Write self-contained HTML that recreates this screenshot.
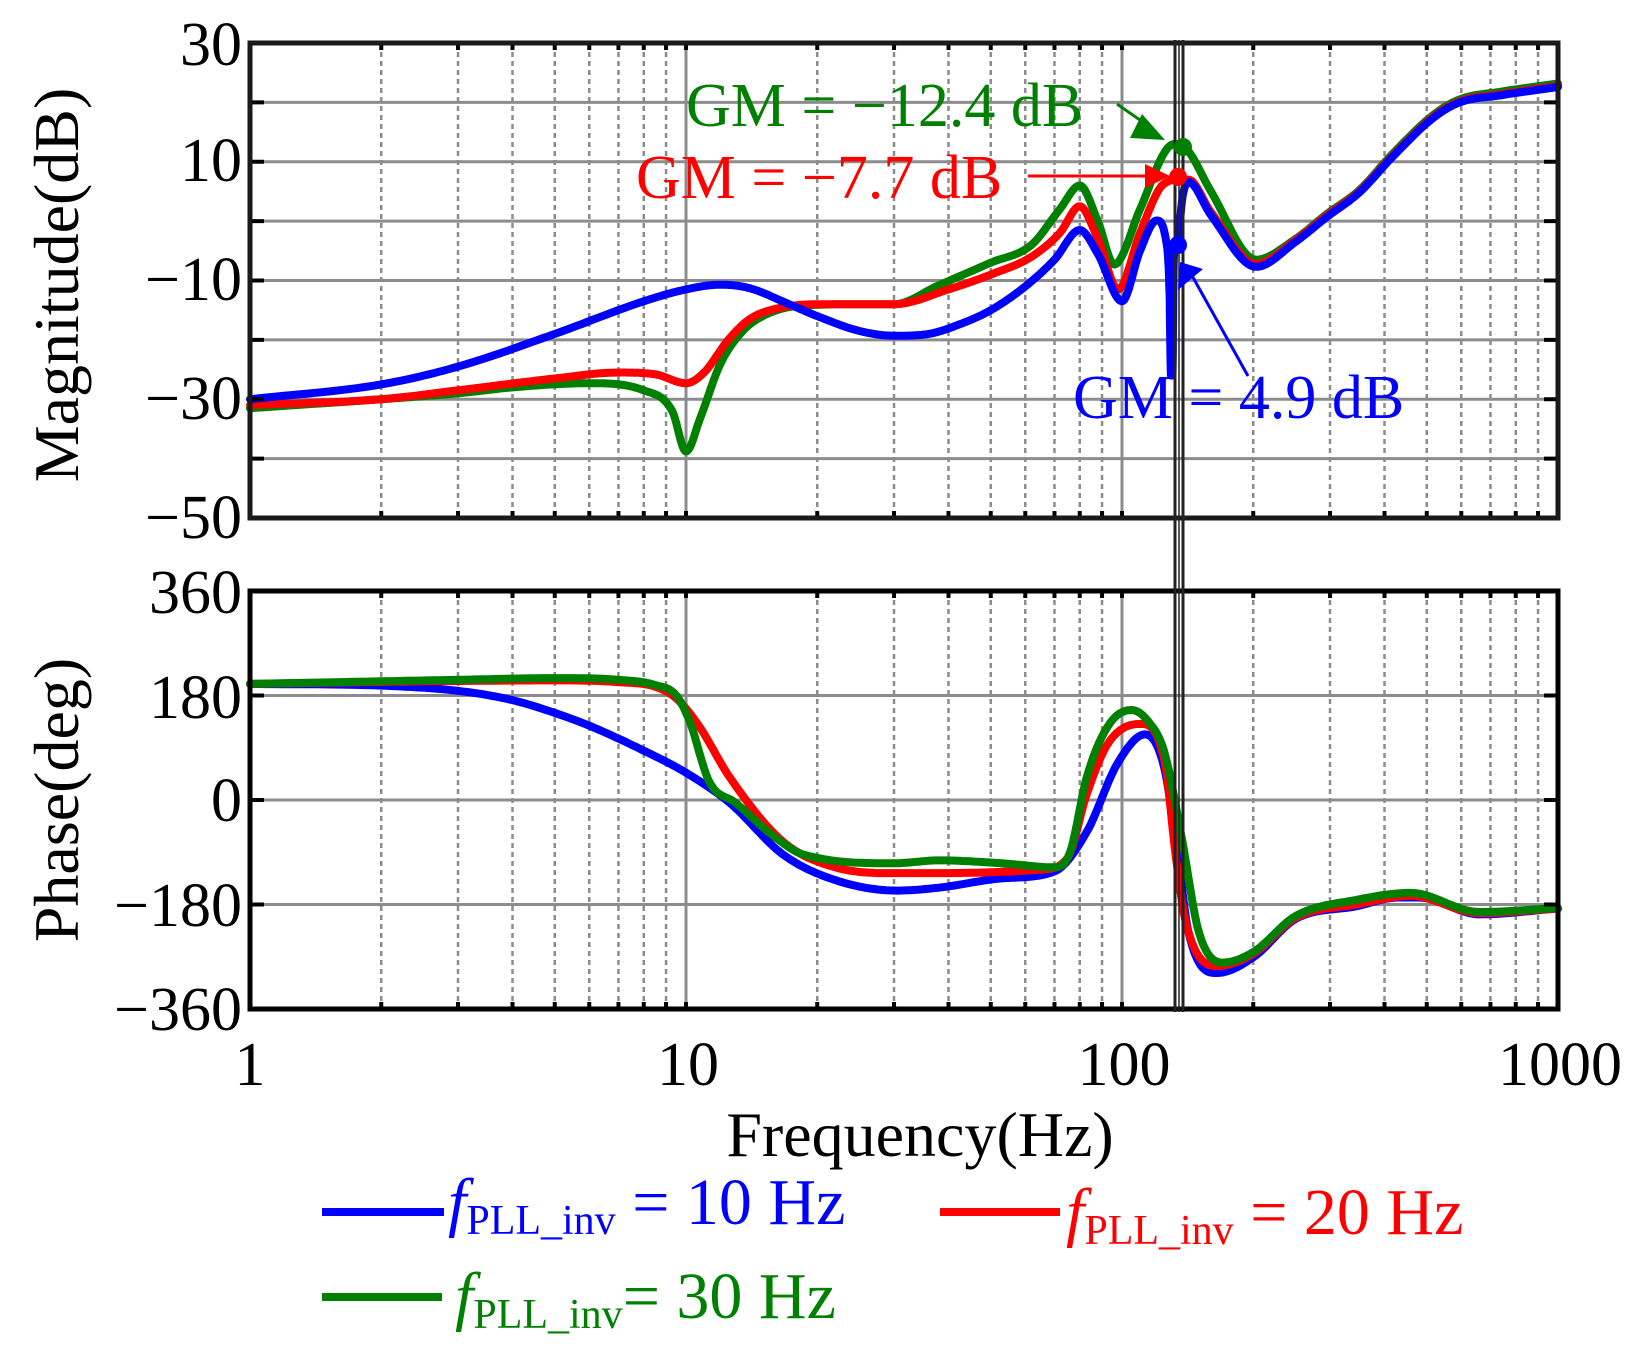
<!DOCTYPE html>
<html><head><meta charset="utf-8">
<style>
html,body{margin:0;padding:0;background:#fff;}
svg{display:block;}
text{font-family:"Liberation Serif","DejaVu Serif",serif;}
</style></head>
<body>
<svg id="s" width="1634" height="1352" viewBox="0 0 1634 1352" xmlns="http://www.w3.org/2000/svg">
<g id="grid"></g>
<g id="curves" fill="none" stroke-linejoin="round" stroke-linecap="round"></g>
<g id="axes"></g>
<g font-size="62" fill="#000" text-anchor="end">
<text x="242" y="65">30</text>
<text x="242" y="181">10</text>
<text x="242" y="300">−10</text>
<text x="242" y="419">−30</text>
<text x="242" y="538">−50</text>
<text x="242" y="613">360</text>
<text x="242" y="718">180</text>
<text x="242" y="821">0</text>
<text x="242" y="926">−180</text>
<text x="242" y="1030">−360</text>
</g>
<g font-size="62" fill="#000" text-anchor="middle">
<text x="250" y="1085">1</text>
<text x="688" y="1085">10</text>
<text x="1124" y="1085">100</text>
<text x="1560" y="1085">1000</text>
<text x="920" y="1156" font-size="64">Frequency(Hz)</text>
<text transform="translate(78,285) rotate(-90)" font-size="64">Magnitude(dB)</text>
<text transform="translate(78,800) rotate(-90)" font-size="64">Phase(deg)</text>
</g>
<g font-size="62">
<text x="686" y="126" fill="#008000">GM = −12.4 dB</text>
<text x="636" y="198" fill="#ff0000">GM = −7.7 dB</text>
<text x="1073" y="418" fill="#0000ff">GM = 4.9 dB</text>
</g>
<g stroke-width="3">
<line x1="1117" y1="104" x2="1150" y2="127" stroke="#008000"/>
<polygon points="1165,140 1142,114 1130,138" fill="#008000"/>
<circle cx="1183" cy="147" r="9" fill="#008000"/>
<line x1="1028" y1="176" x2="1150" y2="176" stroke="#ff0000"/>
<polygon points="1170,176 1145,164 1145,188" fill="#ff0000"/>
<circle cx="1178" cy="177" r="9" fill="#ff0000"/>
<line x1="1248" y1="376" x2="1190" y2="272" stroke="#0000ff"/>
<polygon points="1180,262 1178,290 1203,269" fill="#0000ff"/>
<circle cx="1178" cy="245" r="9" fill="#0000ff"/>
</g>
<g stroke-width="8">
<line x1="322" y1="1212" x2="444" y2="1212" stroke="#0000ff"/>
<line x1="940" y1="1212" x2="1060" y2="1212" stroke="#ff0000"/>
<line x1="322" y1="1297" x2="442" y2="1297" stroke="#008000"/>
</g>
<g font-size="66">
<text x="448" y="1224" fill="#0000ff"><tspan font-style="italic">f</tspan><tspan font-size="42" dy="10">PLL_inv</tspan><tspan dy="-10"> = 10 Hz</tspan></text>
<text x="1066" y="1234" fill="#ff0000"><tspan font-style="italic">f</tspan><tspan font-size="42" dy="10">PLL_inv</tspan><tspan dy="-10"> = 20 Hz</tspan></text>
<text x="455" y="1318" fill="#008000"><tspan font-style="italic">f</tspan><tspan font-size="42" dy="10">PLL_inv</tspan><tspan dy="-10">= 30 Hz</tspan></text>
</g>
</svg>
<script>
var NS="http://www.w3.org/2000/svg";
var L=250,R=1558,D=(R-L)/3;
var T1=43,B1=518,T2=591,B2=1009;
function X(f){return L+D*Math.log10(f);}
function Ym(d){return T1+(30-d)*(B1-T1)/80;}
function Yp(d){return 800-d*(B2-T2)/720;}
function el(g,tag,a){var e=document.createElementNS(NS,tag);for(var k in a)e.setAttribute(k,a[k]);document.getElementById(g).appendChild(e);return e;}
for(var dec=0;dec<3;dec++){for(var m=1;m<=9;m++){var f=Math.pow(10,dec)*m;var x=X(f);if(m==1&&dec==0)continue;
 var dash=(m==1)?null:"5,4";
 [[T1,B1],[T2,B2]].forEach(function(p){var a={x1:x,x2:x,y1:p[0],y2:p[1],stroke:"#8c8c8c","stroke-width":m==1?3:2.5};if(dash)a["stroke-dasharray"]=dash;el("grid","line",a);
 el("axes","line",{x1:x,x2:x,y1:p[0],y2:p[0]+7,stroke:"#000","stroke-width":4});el("axes","line",{x1:x,x2:x,y1:p[1],y2:p[1]-7,stroke:"#000","stroke-width":4});});}}
for(var d=20;d>=-40;d-=10){var y=Ym(d);el("grid","line",{x1:L,x2:R,y1:y,y2:y,stroke:"#8c8c8c","stroke-width":3});el("axes","line",{x1:L,x2:L+14,y1:y,y2:y,stroke:"#000","stroke-width":4});el("axes","line",{x1:R,x2:R-14,y1:y,y2:y,stroke:"#000","stroke-width":4});}
for(var d=180;d>=-180;d-=180){var y=Yp(d);el("grid","line",{x1:L,x2:R,y1:y,y2:y,stroke:"#8c8c8c","stroke-width":3});el("axes","line",{x1:L,x2:L+14,y1:y,y2:y,stroke:"#000","stroke-width":4});el("axes","line",{x1:R,x2:R-14,y1:y,y2:y,stroke:"#000","stroke-width":4});}
el("axes","rect",{x:L,y:T1,width:R-L,height:B1-T1,fill:"none",stroke:"#1a1a1a","stroke-width":5});
el("axes","rect",{x:L,y:T2,width:R-L,height:B2-T2,fill:"none",stroke:"#000","stroke-width":5});
[1175,1179,1183].forEach(function(x,i){el("axes","line",{x1:x,x2:x,y1:40,y2:1012,stroke:"#222","stroke-width":i==1?1.5:3});});
function curve(pts,Y){var n=pts.length,xs=[],ys=[];for(var i=0;i<n;i++){xs.push(Math.log10(pts[i][0]));ys.push(pts[i][1]);}
 var dl=[],ms=[];for(var i=0;i<n-1;i++)dl.push((ys[i+1]-ys[i])/(xs[i+1]-xs[i]));
 ms[0]=dl[0];ms[n-1]=dl[n-2];for(var i=1;i<n-1;i++){if(dl[i-1]*dl[i]<=0)ms[i]=0;else ms[i]=(dl[i-1]+dl[i])/2;}
 for(var i=0;i<n-1;i++){if(dl[i]==0){ms[i]=0;ms[i+1]=0;continue;}var a=ms[i]/dl[i],b=ms[i+1]/dl[i],s=a*a+b*b;if(s>9){var t=3/Math.sqrt(s);ms[i]=t*a*dl[i];ms[i+1]=t*b*dl[i];}}
 var d="";for(var i=0;i<n-1;i++){var h=xs[i+1]-xs[i];for(var k=0;k<=16;k++){var t=k/16;if(i>0&&k==0)continue;
  var h00=2*t*t*t-3*t*t+1,h10=t*t*t-2*t*t+t,h01=-2*t*t*t+3*t*t,h11=t*t*t-t*t;
  var yv=h00*ys[i]+h10*h*ms[i]+h01*ys[i+1]+h11*h*ms[i+1];var xv=xs[i]+t*h;
  d+=(d?"L":"M")+(L+D*xv).toFixed(1)+","+Y(yv).toFixed(1);}}
 return d;}
function draw(pts,Y,c){el("curves","path",{d:curve(pts,Y),stroke:c,"stroke-width":8});}
var hi=[[142,6.6],[160,1],[203,-7.7],[250,-3.5],[295,0.7],[350,4.8],[417,10.8],[520,17.5],[595,20],[740,21.2],[1000,22.6]];
var magG=[[1,-31.5],[2,-30],[3,-29],[4,-28],[6,-27.3],[8,-28.5],[9.3,-32],[10,-38.8],[10.8,-33],[12,-24],[13.5,-18.5],[15,-16],[18,-14.3],[25,-14],[30,-14],[38,-10.8],[50,-7],[62,-4],[72,2],[80,6],[88,0],[96,-7.3],[110,2],[125,11.5],[132,13],[138,12.5],[142,11.8],[160,5],[203,-6.5],[250,-3],[295,1.2],[350,5.2],[417,11.3],[520,18],[595,20.5],[740,21.8],[1000,23.2]];
var magR=[[1,-31],[2,-30],[3,-28.5],[5,-26.5],[7,-25.5],[8.5,-25.8],[10,-27.3],[11,-25.5],[12.5,-20],[14,-16.5],[16,-14.8],[20,-14],[30,-14],[40,-11.5],[50,-9],[62,-6],[72,-2],[80,2.5],[88,-3],[98,-11.5],[110,-2],[122,5.5],[130,7],[134,7.5],[138,7],[142,7]].concat([[160,1.5],[203,-7.2],[250,-3.2],[295,1],[350,5],[417,11],[520,17.7],[595,20.2],[740,21.4],[1000,22.8]]);
var magB=[[1,-30],[2,-27.5],[3,-24.5],[5,-19],[8,-13.5],[10,-11.5],[12,-10.7],[14,-11.3],[17,-13.8],[20,-16],[25,-18.5],[30,-19.3],[36,-19],[42,-17.5],[50,-15],[60,-11],[70,-6.5],[80,-1.5],[88,-5.5],[100,-13.5],[110,-5],[120,0.1],[126,-3],[128.5,-12],[129.5,-26],[130.5,-26],[131.5,-6],[134,-3],[138,4.5]].concat(hi);
draw(magG,Ym,"#008000");draw(magR,Ym,"#ff0000");draw(magB,Ym,"#0000ff");
var phB=[[1,200],[2,197],[3,188],[4,172],[5,150],[6,128],[8,85],[10,47],[12.6,-5],[16.7,-94],[22,-138],[30.5,-156],[38,-151],[53,-135],[70,-123],[83,-55],[98,65],[113,113],[125,55],[135,-109],[142,-227],[165,-298],[200,-271],[250,-205],[345,-183],[430,-168],[480,-168],[660,-197],[1000,-187]];
var phR=[[1,200],[3,205],[5,206],[7,203],[8.5,195],[9.5,175],[10.7,128],[12.6,39],[16.7,-72],[22,-116],[30,-126],[38,-126],[65,-120],[75,-100],[83,10],[93,98],[110,131],[125,69],[133,-100],[140,-210],[165,-286],[200,-265],[250,-203],[345,-180],[460,-165],[660,-195],[1000,-187]];
var phG=[[1,200],[3,207],[5,210],[7,207],[8.5,198],[9.5,180],[10.2,135],[11.3,32],[13,-5],[16,-64],[18.6,-94],[30,-109],[38,-104],[53,-109],[70,-116],[76,-90],[83,39],[93,128],[105,155],[115,135],[125,83],[137,-64],[150,-227],[170,-280],[200,-262],[250,-200],[345,-172],[460,-160],[660,-193],[1000,-186]];
draw(phB,Yp,"#0000ff");draw(phR,Yp,"#ff0000");draw(phG,Yp,"#008000");
</script>
</body></html>
